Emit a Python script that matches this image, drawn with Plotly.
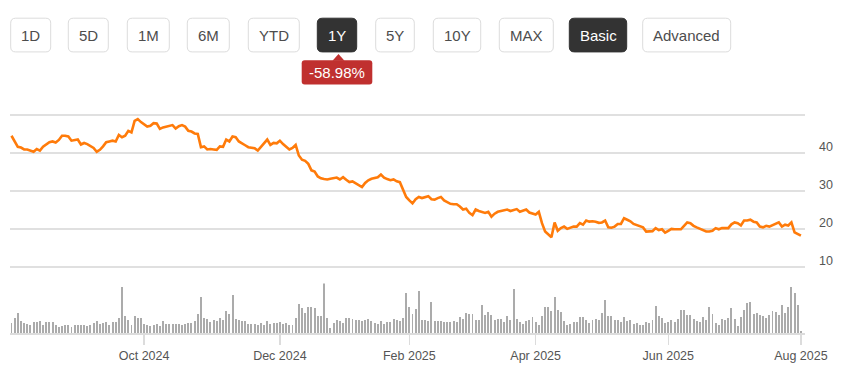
import pandas as pd
import plotly.graph_objects as go

# ---------------- data ----------------
holidays = ["2024-09-02", "2024-11-28", "2024-12-25", "2025-01-01", "2025-01-09",
            "2025-01-20", "2025-02-17", "2025-04-18", "2025-05-26", "2025-06-19", "2025-07-04"]
dates = [d for d in pd.bdate_range("2024-08-01", "2025-08-01")
         if d.strftime("%Y-%m-%d") not in holidays]

price = [
    44.5, 43.2, 41.6, 41.4, 40.9, 40.9, 40.5, 40.3, 41.0, 40.6,
    41.6, 42.3, 42.8, 43.0, 42.7, 43.4, 44.5, 44.5, 44.3, 43.2,
    43.4, 43.5, 42.2, 42.6, 42.3, 41.8, 41.3, 40.3, 40.8, 41.7,
    42.8, 43.0, 43.2, 43.0, 44.7, 44.1, 44.5, 45.8, 45.4, 48.4,
    48.9, 48.1, 47.6, 46.9, 47.1, 47.8, 47.7, 46.3, 46.7, 46.9,
    47.1, 47.3, 46.4, 47.0, 47.3, 46.9, 45.8, 45.6, 45.1, 45.0,
    41.5, 41.7, 40.9, 41.0, 40.9, 40.8, 41.7, 41.6, 43.5, 43.0,
    44.3, 44.1, 43.0, 42.6, 42.0, 41.5, 41.3, 41.2, 40.6, 41.5,
    42.6, 43.5, 42.1, 42.6, 42.5, 43.2, 42.3, 41.6, 40.9, 41.3,
    42.1, 39.3, 38.2, 37.9, 37.1, 35.4, 35.1, 33.8, 33.3, 33.1,
    33.0, 33.2, 33.4, 33.5, 33.0, 33.6, 32.9, 32.3, 32.5, 32.0,
    31.6, 31.0, 32.1, 32.8, 33.2, 33.5, 33.6, 34.3, 33.5, 33.1,
    32.8, 33.0, 32.5, 32.3, 30.5, 28.4, 27.5, 26.7, 27.8, 28.4,
    28.1, 28.3, 28.6, 27.8, 27.7, 28.1, 28.4, 27.5, 27.1, 26.6,
    26.5, 26.5, 25.9, 25.1, 25.3, 24.2, 23.6, 25.1, 24.7, 24.5,
    24.2, 24.5, 23.2, 24.0, 24.5, 24.7, 24.9, 25.1, 24.7, 24.9,
    25.2, 24.5, 24.7, 25.1, 24.3, 24.0, 23.8, 24.5, 21.5, 19.3,
    18.6, 17.8, 21.7, 19.5, 20.2, 20.6, 20.0, 20.3, 20.6, 20.6,
    21.5, 21.1, 22.2, 21.9, 22.0, 21.9, 21.6, 21.7, 22.2, 20.4,
    20.3, 20.6, 21.3, 21.3, 22.8, 22.4, 22.0, 21.3, 21.0, 20.7,
    20.4, 19.3, 19.3, 19.4, 20.2, 19.7, 19.9, 19.0, 19.5, 20.0,
    19.9, 19.9, 19.9, 20.8, 21.7, 21.5, 20.8, 20.4, 20.0, 19.7,
    19.3, 19.3, 19.5, 20.2, 19.9, 20.2, 20.2, 20.2, 21.2, 21.7,
    21.5, 20.9, 22.2, 22.2, 22.4, 21.9, 21.7, 20.6, 20.4, 20.8,
    20.6, 21.0, 21.5, 21.7, 20.6, 21.1, 20.9, 21.7, 19.1, 18.7,
    18.2,
]

# volume in units of 100k shares
volume_100k = [
    30, 45, 62, 35, 30, 28, 25, 32, 33, 35,
    25, 32, 32, 32, 23, 17, 20, 23, 23, 17,
    23, 23, 23, 23, 20, 23, 30, 35, 28, 30,
    32, 25, 32, 32, 45, 140, 50, 40, 23, 50,
    45, 45, 27, 23, 22, 25, 27, 22, 35, 28,
    28, 28, 28, 28, 25, 28, 30, 30, 35, 57,
    110, 45, 42, 32, 40, 35, 45, 40, 68, 58,
    115, 42, 38, 35, 35, 28, 27, 27, 25, 30,
    25, 35, 28, 30, 30, 32, 28, 30, 25, 25,
    45, 88, 77, 60, 78, 80, 77, 50, 50, 150,
    45, 15, 30, 40, 35, 30, 45, 45, 42, 38,
    38, 37, 38, 42, 35, 30, 28, 35, 28, 32,
    32, 42, 38, 35, 45, 122, 80, 57, 72, 128,
    40, 40, 36, 93, 37, 36, 35, 33, 32, 33,
    35, 33, 48, 43, 60, 56, 56, 40, 40, 85,
    53, 63, 53, 38, 41, 41, 33, 50, 38, 133,
    41, 33, 28, 36, 38, 48, 33, 25, 50, 78,
    80, 67, 108, 71, 63, 37, 25, 28, 33, 33,
    48, 48, 38, 30, 40, 42, 40, 60, 100, 52,
    52, 38, 40, 33, 48, 36, 38, 28, 30, 23,
    23, 33, 30, 38, 81, 50, 45, 30, 33, 40,
    33, 42, 70, 70, 53, 53, 43, 36, 33, 48,
    38, 78, 56, 30, 25, 43, 38, 45, 75, 43,
    21, 48, 71, 90, 93, 56, 60, 53, 50, 45,
    55, 66, 63, 53, 85, 60, 78, 138, 120, 86,
    6,
]

tick_months = ["2024-10", "2024-12", "2025-02", "2025-04", "2025-06", "2025-08"]
tick_labels = ["Oct 2024", "Dec 2024", "Feb 2025", "Apr 2025", "Jun 2025", "Aug 2025"]
price_ticks = [10, 20, 30, 40, 50]
price_tick_text = ["10", "20", "30", "40", ""]
buttons = ["1D", "5D", "1M", "6M", "YTD", "1Y", "5Y", "10Y", "MAX", "Basic", "Advanced"]
active_buttons = ["1Y", "Basic"]
change_label = "-58.98%"

assert len(price) == len(dates) == len(volume_100k), (len(price), len(dates), len(volume_100k))

# ---------------- layout helpers ----------------
W, H = 853, 373
ML, MR, MT, MB = 10, 48, 100, 38
PW, PH = W - ML - MR, H - MT - MB
FONT = "Liberation Sans, Arial, Helvetica, sans-serif"


def px(x):
    return (x - ML) / PW


def py(y):
    return (H - MB - y) / PH


def rrect(x0, y0, x1, y1, r):
    pts = [
        ("M", [(x0 + r, y0)]), ("L", [(x1 - r, y0)]), ("Q", [(x1, y0), (x1, y0 + r)]),
        ("L", [(x1, y1 - r)]), ("Q", [(x1, y1), (x1 - r, y1)]),
        ("L", [(x0 + r, y1)]), ("Q", [(x0, y1), (x0, y1 - r)]),
        ("L", [(x0, y0 + r)]), ("Q", [(x0, y0), (x0 + r, y0)]),
    ]
    s = ""
    for cmd, ps in pts:
        s += cmd + " " + " ".join(f"{px(a):.5f},{py(b):.5f}" for a, b in ps) + " "
    return s + "Z"


idx = list(range(len(dates)))
month_keys = [d.strftime("%Y-%m") for d in dates]
tickvals = [month_keys.index(m) for m in tick_months]

fig = go.Figure()
fig.add_trace(go.Bar(x=idx, y=volume_100k, marker_color="#ababab", marker_line_width=0,
                     width=0.62, xaxis="x", yaxis="y", hoverinfo="skip"))
fig.add_trace(go.Scatter(x=idx, y=price, mode="lines",
                         line=dict(color="#ff7b0a", width=2.6),
                         xaxis="x2", yaxis="y2", hoverinfo="skip"))

x_range = [-0.47, len(idx) + 0.3]
vol_top_px = 285
fig.update_layout(
    width=W, height=H,
    margin=dict(l=ML, r=MR, t=MT, b=MB, pad=0),
    paper_bgcolor="white", plot_bgcolor="white",
    showlegend=False,
    bargap=0,
    font=dict(family=FONT, color="#555555"),
    xaxis=dict(domain=[0, 1], range=x_range, anchor="y",
               tickmode="array", tickvals=tickvals, ticktext=tick_labels,
               ticks="outside", ticklen=10, tickwidth=1.5, tickcolor="#dcdcdc",
               showline=True, linecolor="#dcdcdc", linewidth=2,
               showgrid=False, zeroline=False,
               tickfont=dict(size=12.5, color="#555555", family=FONT)),
    xaxis2=dict(domain=[0, 1], range=x_range, anchor="y2", visible=False, matches="x"),
    yaxis=dict(domain=[0, py(vol_top_px)], range=[0, 150], visible=False),
    yaxis2=dict(domain=[py(276.0), py(107.3)], range=[8, 52], anchor="x2", side="right",
                tickmode="array", tickvals=price_ticks, ticktext=price_tick_text,
                showgrid=True, gridcolor="#e0e0e0", gridwidth=2,
                zeroline=False, showline=False, ticks="",
                ticklabelstandoff=13, ticklabelshift=-6,
                tickfont=dict(size=12.5, color="#555555", family=FONT)),
)

# buttons
button_boxes = [(10.7, 50.7), (68.3, 108.3), (127.3, 169.3), (187.3, 229.3), (248.3, 299.3),
                (317.3, 356.7), (375.7, 414.3), (433.3, 480.7), (499.3, 553.3),
                (569.3, 626.7), (642.7, 730.7)]
by0, by1 = 17.5, 51.5
shapes = []
annotations = []
for label, (bx0, bx1) in zip(buttons, button_boxes):
    act = label in active_buttons
    shapes.append(dict(type="path", xref="paper", yref="paper", layer="above",
                       path=rrect(bx0, by0, bx1, by1, 5),
                       fillcolor="#333333" if act else "white",
                       line=dict(color="#333333" if act else "#dcdcdc", width=1)))
    annotations.append(dict(xref="paper", yref="paper", x=px((bx0 + bx1) / 2), y=py((by0 + by1) / 2),
                            text=label, showarrow=False, xanchor="center", yanchor="middle",
                            font=dict(family=FONT, size=15, color="white" if act else "#4d4d4d")))

# change badge with pointer
bx0, bx1, bt, bb = 301.7, 372.3, 60.0, 84.3
shapes.append(dict(type="path", xref="paper", yref="paper", layer="above",
                   path=rrect(bx0, bt, bx1, bb, 3), fillcolor="#c0302f",
                   line=dict(color="#c0302f", width=0)))
tip_x = 338.5
shapes.append(dict(type="path", xref="paper", yref="paper", layer="above",
                   path=f"M {px(tip_x - 6):.5f},{py(bt + 0.5):.5f} L {px(tip_x):.5f},{py(53.5):.5f} "
                        f"L {px(tip_x + 6):.5f},{py(bt + 0.5):.5f} Z",
                   fillcolor="#c0302f", line=dict(color="#c0302f", width=0)))
annotations.append(dict(xref="paper", yref="paper", x=px((bx0 + bx1) / 2), y=py((bt + bb) / 2),
                        text=change_label, showarrow=False, xanchor="center", yanchor="middle",
                        font=dict(family=FONT, size=15, color="white")))

fig.update_layout(shapes=shapes, annotations=annotations)

fig.write_html("out.html", config={"displayModeBar": False, "staticPlot": True},
               post_script="document.body.style.margin='0';")
